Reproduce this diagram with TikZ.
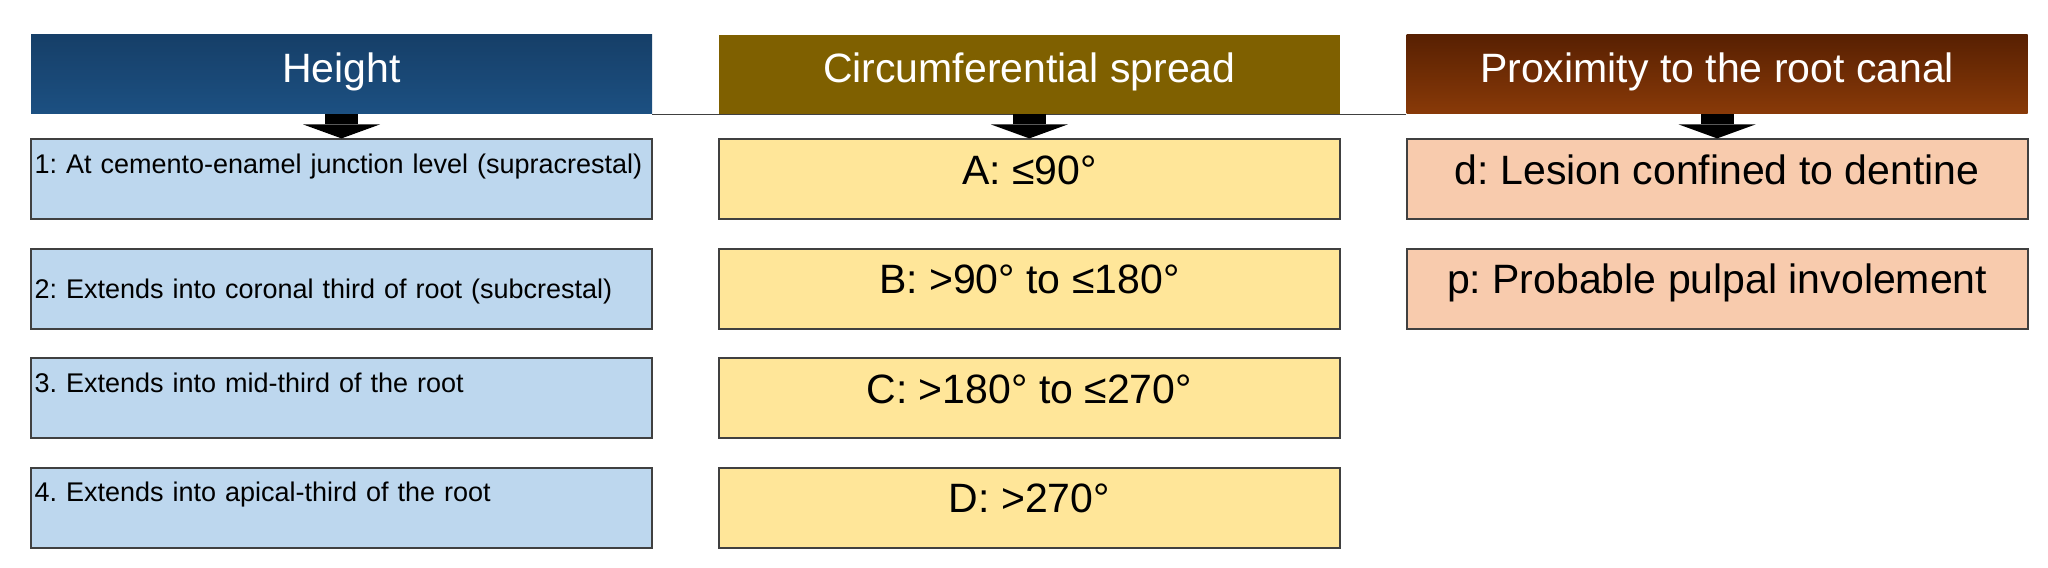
\documentclass[tikz,border=0pt]{standalone}
\usepackage{fontspec}
\setmainfont{Liberation Sans}
\usepackage{tikz}
\usetikzlibrary{arrows.meta,positioning}
\definecolor{heightblue}{RGB}{22,63,104}
\definecolor{heightblue2}{RGB}{28,80,130}
\definecolor{spreadolive}{RGB}{127,96,0}
\definecolor{canalbrown}{RGB}{88,32,2}
\definecolor{canalbrown2}{RGB}{137,58,8}
\definecolor{heightfill}{RGB}{189,215,238}
\definecolor{spreadfill}{RGB}{255,230,153}
\definecolor{canalfill}{RGB}{248,203,173}
\definecolor{edgegray}{RGB}{64,64,64}
\frenchspacing

\begin{document}
\begin{tikzpicture}[
    x=0.5pt, y=-0.5pt,
    node distance=13.75pt,
    >={Triangle[width=38.5pt,length=7pt,line width=0pt]},
    header/.style={
		rectangle,
		minimum width=310.5pt,
		minimum height=39.5pt,
		inner sep=0pt,
		text=white,
		text height=15pt,
		text depth=7.3pt,
		font=\fontsize{20.5}{24}\selectfont
	},
	class/.style={
		rectangle,
		draw=edgegray,
		line width=1pt,
		minimum width=310.5pt,
		minimum height=40pt,
		inner sep=0pt,
		text height=15pt,
		text depth=10pt,
		font=\fontsize{20.5}{24}\selectfont
	},
	level/.style={
		class,
		fill=heightfill,
		align=left,
		text width=307pt,
		text height=10pt,
		text depth=16pt,
		font=\fontsize{13.5}{16}\selectfont
	},
	pointer/.style={
		->,
		line width=16.5pt,
		black
	}
  ]
  \useasboundingbox (0,0) rectangle (2048,567);

    % We start by placing the headers
  \node [header, top color=heightblue, bottom color=heightblue2] (height) at (341.5,74.5) {Height};
  \node [header, fill=spreadolive, right=33pt of height] (spread) {Circumferential spread};
  \node [header, top color=canalbrown, bottom color=canalbrown2, right=33pt of spread] (canal) {Proximity to the root canal};

    % Height column
  \node [level, below=12pt of height] (height1) {1: At cemento-enamel junction level (supracrestal)};
  \node [level, text depth=0pt, below=of height1] (height2) {2: Extends into coronal third of root (subcrestal)};
  \node [level, below=of height2] (height3) {3. Extends into mid-third of the root};
  \node [level, below=of height3] (height4) {4. Extends into apical-third of the root};

    % Circumferential spread column
  \node [class, fill=spreadfill, below=12pt of spread] (spreadA) {A: ≤90°};
  \node [class, fill=spreadfill, below=of spreadA] (spreadB) {B: >90° to ≤180°};
  \node [class, fill=spreadfill, below=of spreadB] (spreadC) {C: >180° to ≤270°};
  \node [class, fill=spreadfill, below=of spreadC] (spreadD) {D: >270°};

    % Proximity column
  \node [class, fill=canalfill, below=12pt of canal] (canald) {d: Lesion confined to dentine};
  \node [class, fill=canalfill, below=of canald] (canalp) {p: Probable pulpal involement};

 \draw [edgegray, line width=0.6pt] (height.south east) -- (canal.south west);

 \draw [pointer] (height) -- (height1);
 \draw [pointer] (spread) -- (spreadA);
 \draw [pointer] (canal) -- (canald);

\end{tikzpicture}
\end{document}
